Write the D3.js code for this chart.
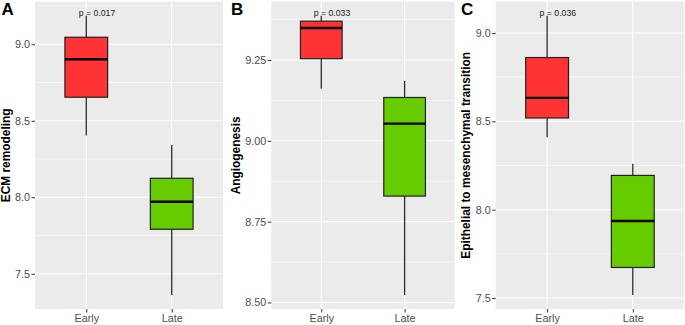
<!DOCTYPE html>
<html lang="en">
<head>
  <meta charset="UTF-8">
  <title>Early vs Late boxplots</title>
  <script src="https://d3js.org/d3.v7.min.js"></script>
  <style>
    body { margin: 0; background: #fff; }
  </style>
</head>
<body>
<svg></svg>
<script>
  // size of the whole picture
  const width = 685, height = 325

  // groups on the x axis
  const groups = ['Early', 'Late']
  const fills = ['#FF3333', '#66CC00']

  // box stats: [lower whisker, q1, median, q3, upper whisker]
  const ecmEarly = [8.404, 8.654, 8.902, 9.046, 9.187]
  const ecmLate = [7.361, 7.791, 7.971, 8.124, 8.341]
  const angioEarly = [9.161, 9.254, 9.349, 9.370, 9.387]
  const angioLate = [8.523, 8.829, 9.053, 9.134, 9.185]
  const emtEarly = [8.410, 8.519, 8.633, 8.861, 9.098]
  const emtLate = [7.517, 7.673, 7.936, 8.194, 8.260]

  // tick labels
  const ecmTicks = ['7.5', '8.0', '8.5', '9.0']
  const angioTicks = ['8.50', '8.75', '9.00', '9.25']
  const emtTicks = ['7.5', '8.0', '8.5', '9.0']

  // panel texts
  const panelLetters = ['A', 'B', 'C']
  const yTitles = ['ECM remodeling', 'Angiogenesis', 'Epithelial to mesenchymal transition']
  const pLabels = ['p = 0.017', 'p = 0.033', 'p = 0.036']

  // where each panel sits (plot area)
  const panels = [
    {stats: [ecmEarly, ecmLate], ticks: ecmTicks, left: 35, right: 223, titleX: 9.5, letterX: 1.5},
    {stats: [angioEarly, angioLate], ticks: angioTicks, left: 271.3, right: 454.6, titleX: 240, letterX: 231},
    {stats: [emtEarly, emtLate], ticks: emtTicks, left: 495.7, right: 684.2, titleX: 469.5, letterX: 461}
  ]
  const plotTop = 1.7, plotBottom = 309

  const svg = d3.select('svg')
      .attr('width', width)
      .attr('height', height)
      .attr('viewBox', [0, 0, width, height])
      .attr('font-family', '"Liberation Sans", Arial, sans-serif')

  panels.forEach((p, i) => {
    const all = p.stats.flat()
    const lo = d3.min(all), hi = d3.max(all)
    const pad = (hi - lo) * 0.05

    const x = d3.scalePoint()
        .domain(groups)
        .range([p.left, p.right])
        .padding(0.6)

    const y = d3.scaleLinear()
        .domain([lo - pad, hi + pad])
        .range([plotBottom, plotTop])

    const tickVals = p.ticks.map(Number)
    const step = tickVals[1] - tickVals[0]
    const minors = tickVals.map(t => t - step / 2).concat([tickVals[tickVals.length - 1] + step / 2])
        .filter(v => v >= y.domain()[0] && v <= y.domain()[1])

    const g = svg.append('g')

    // grey panel
    g.append('rect')
        .attr('x', p.left)
        .attr('y', plotTop)
        .attr('width', p.right - p.left)
        .attr('height', plotBottom - plotTop)
        .attr('fill', '#EBEBEB')

    // grid
    g.selectAll('.minor').data(minors).enter().append('line')
        .attr('x1', p.left).attr('x2', p.right)
        .attr('y1', d => y(d)).attr('y2', d => y(d))
        .attr('stroke', '#fff').attr('stroke-width', 0.6)

    g.selectAll('.major').data(tickVals).enter().append('line')
        .attr('x1', p.left).attr('x2', p.right)
        .attr('y1', d => y(d)).attr('y2', d => y(d))
        .attr('stroke', '#fff').attr('stroke-width', 1.1)

    g.selectAll('.vgrid').data(groups).enter().append('line')
        .attr('x1', d => x(d)).attr('x2', d => x(d))
        .attr('y1', plotTop).attr('y2', plotBottom)
        .attr('stroke', '#fff').attr('stroke-width', 1.1)

    // boxes
    const bw = x.step() * 0.5
    const box = g.selectAll('.box').data(p.stats).enter().append('g')
        .attr('transform', (d, j) => `translate(${x(groups[j])},0)`)

    box.append('line')
        .attr('y1', d => y(d[0])).attr('y2', d => y(d[4]))
        .attr('stroke', '#2a2a2a').attr('stroke-width', 1.3)

    box.append('rect')
        .attr('x', -bw / 2)
        .attr('width', bw)
        .attr('y', d => y(d[3]))
        .attr('height', d => y(d[1]) - y(d[3]))
        .attr('fill', (d, j) => fills[j])
        .attr('stroke', '#222')
        .attr('stroke-width', 1.2)

    box.append('line')
        .attr('x1', -bw / 2).attr('x2', bw / 2)
        .attr('y1', d => y(d[2])).attr('y2', d => y(d[2]))
        .attr('stroke', '#000').attr('stroke-width', 2.4)

    // p value
    g.append('text')
        .attr('x', x(groups[0]) - 7.5)
        .attr('y', y(p.stats[0][4]) + 0.5)
        .attr('font-size', '8.7px')
        .attr('fill', '#222')
        .text(pLabels[i])

    // axes
    const yAxis = g.append('g')
        .attr('transform', `translate(${p.left},0)`)
        .call(d3.axisLeft(y).tickValues(tickVals).tickFormat((d, k) => p.ticks[k]).tickSize(3.5).tickPadding(1.5))
    yAxis.select('.domain').remove()
    yAxis.selectAll('line').attr('stroke', '#333')
    yAxis.selectAll('text').attr('fill', '#4D4D4D').attr('font-size', '10.8px')
        .attr('font-family', '"Liberation Sans", Arial, sans-serif')

    const xAxis = g.append('g')
        .attr('transform', `translate(0,${plotBottom})`)
        .call(d3.axisBottom(x).tickSize(3.5).tickPadding(1.5))
    xAxis.select('.domain').remove()
    xAxis.selectAll('line').attr('stroke', '#333')
    xAxis.selectAll('text').attr('fill', '#4D4D4D').attr('font-size', '10.8px')
        .attr('font-family', '"Liberation Sans", Arial, sans-serif')

    // y title
    g.append('text')
        .attr('transform', `translate(${p.titleX},${(plotTop + plotBottom) / 2}) rotate(-90)`)
        .attr('text-anchor', 'middle')
        .attr('font-size', '11.9px')
        .attr('font-weight', 'bold')
        .attr('fill', '#000')
        .text(yTitles[i])

    // panel letter
    g.append('text')
        .attr('x', p.letterX)
        .attr('y', 14.5)
        .attr('font-size', '17px')
        .attr('font-weight', 'bold')
        .attr('fill', '#000')
        .text(panelLetters[i])
  })
</script>
</body>
</html>
